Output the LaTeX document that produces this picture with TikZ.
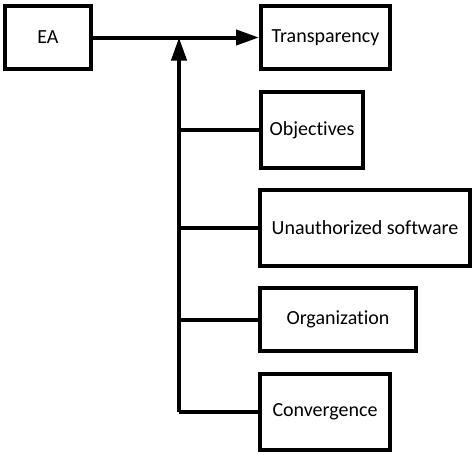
\documentclass[tikz,border=0pt]{standalone}
\usepackage{fontspec}
\setmainfont{Carlito}[Ligatures={NoCommon,NoRequired,NoContextual}]
\usepackage{tikz}
\usetikzlibrary{arrows.meta,positioning}

\begin{document}
\begin{tikzpicture}[x=1pt,y=-1pt]
	\useasboundingbox (0,0) rectangle (474,455);
	\begin{scope}[every node/.style={rectangle,draw,line width=4pt,font=\fontsize{20}{24}\selectfont,inner sep=0pt}]
		\node[minimum width=86pt,minimum height=63pt] (EA) at (48,37.5) {EA};
		\node[minimum width=129pt,minimum height=63pt] (trans) at (325.5,37.5) {Transparency};
		\node[minimum width=102pt,minimum height=76pt] (obj) at (312,130) {Objectives};
		\node[minimum width=210pt,minimum height=76pt] (unauth) at (365,228) {Unauthorized software};
		\node[minimum width=156pt,minimum height=63pt] (org) at (338,319.5) {Organization};
		\node[minimum width=130pt,minimum height=76pt] (conv) at (325,412) {Convergence};
	\end{scope}

	\coordinate (spine) at (179,37.5);

	\begin{scope}[line width=4pt]
	\draw[-{Triangle[length=23pt,width=15pt]}] (EA.east) -- (trans.west);
	\draw[-{Triangle[length=23pt,width=15pt]}] (conv.west -| spine) -- (spine);
	\draw (obj.west) -- (obj.west -| spine);
	\draw (unauth.west) -- (unauth.west -| spine);
	\draw (org.west) -- (org.west -| spine);
	\draw (conv.west) -- (conv.west -| spine);
	\end{scope}
\end{tikzpicture}
\end{document}
